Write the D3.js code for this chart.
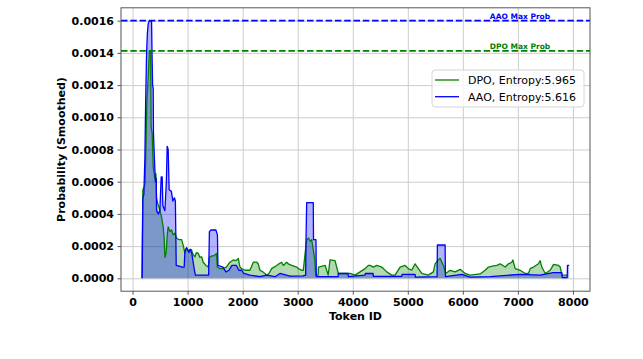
<!DOCTYPE html>
<html><head><meta charset="utf-8">
<script src="https://cdn.jsdelivr.net/npm/d3@7"></script>
<style>body{margin:0;background:#fff} svg{display:block} text{font-family:"DejaVu Sans",sans-serif}</style>
</head><body><svg id="c" width="643" height="359"></svg>
<script>
const xTicks = [0,1000,2000,3000,4000,5000,6000,7000,8000];
const yTicks = [0,0.0002,0.0004,0.0006,0.0008,0.0010,0.0012,0.0014,0.0016];
const seriesNames = ["DPO, Entropy:5.965","AAO, Entropy:5.616"];
const maxLabels = ["DPO Max Prob","AAO Max Prob"];
const maxValues = [0.001412, 0.0016];

const dpoTokens = [169,187,215,229,242,260,284,305,329,338,356,375,405,424,436,460,484,527,556,574,587,611,633,647,678,709,738,769,800,842,891,924,951,982,1014,1042,1073,1096,1133,1160,1193,1224,1254,1284,1333,1374,1396,1442,1478,1527,1538,1587,1647,1705,1769,1829,1878,1920,1951,1982,2042,2133,2193,2254,2283,2314,2369,2436,2478,2527,2618,2660,2709,2738,2800,2829,2891,2982,3011,3072,3102,3133,3163,3196,3227,3254,3282,3309,3327,3372,3378,3500,3554,3587,3678,3738,3951,4042,4133,4223,4283,4314,4375,4436,4527,4618,4709,4769,4860,4951,5011,5072,5132,5193,5254,5374,5465,5496,5542,5587,5647,5687,5769,5860,5951,6042,6132,6314,6405,6465,6556,6618,6678,6769,6829,6890,6909,6951,7041,7132,7192,7223,7284,7374,7404,7435,7496,7587,7648,7738,7769,7799,7896];
const dpoValues = [0,0.00055,0.00057,0.0006,0.0008,0.0011,0.00125,0.001412,0.001412,0.00094,0.0009,0.00069,0.00062,0.00065,0.0005,0.00046,0.00044,0.00038,0.00032,0.00025,0.00013,0.00016,0.00028,0.00032,0.00029,0.0003,0.00027,0.00028,0.00025,0.00024,0.00024,0.0002,0.000155,0.00019,0.00017,0.00018,0.000176,0.00015,0.000134,0.00016,0.000155,0.00013,0.000134,0.0001,0.00008,0.00007,0.00013,0.00014,0.00014,0.000155,0.00007,0.00006,0.00006,0.00007,0.0001,0.000114,0.00011,0.000124,0.00007,0.00006,0.00005,0.00005,0.0001,0.0001,0.00009,0.00005,0.00004,0.00002,0.00003,0.00006,0.00008,0.00009,0.0001,0.00008,0.0001,0.00009,0.00008,0.00007,0.00006,0.00005,0.00005,0.00015,0.00024,0.00025,0.00023,0.00024,0.00018,0.00012,0.00002,0.00002,0.00007,0.00008,0.00002,0.000114,0.00011,0.00003,0.00003,0.00002,0.00004,0.00006,0.00008,0.00008,0.00007,0.00008,0.00007,0.00004,0.00002,0.00002,0.00007,0.00008,0.00006,0.00005,0.00009,0.00006,0.00003,0.00002,0.00004,0.00009,0.00011,0.000124,0.00008,0.00003,0.00005,0.00004,0.000056,0.00003,0.00002,0.000027,0.00005,0.00007,0.000077,0.00008,0.00009,0.00007,0.00009,0.0001,0.000114,0.00006,0.00005,0.00003,0.00003,0.00006,0.00007,0.00009,0.00011,0.00007,0.00003,0.00005,0.000087,0.00008,0.00007,0.00002,0.00002];

const aaoTokens = [175,187,205,224,238,255,269,284,302,345,356,364,375,380,396,415,430,436,469,496,520,538,551,587,614,629,647,665,705,733,760,778,793,909,938,951,982,1024,1051,1078,1124,1142,1382,1396,1423,1514,1542,1551,1642,1696,1751,1805,1887,1932,1982,2023,2133,2314,2436,2587,2678,2860,3096,3145,3151,3163,3283,3287,3332,3338,3732,3738,3914,3920,4223,4229,4369,4375,4890,4896,5132,5138,5532,5538,5678,5684,5981,6132,6496,7041,7404,7641,7799,7805,7896,7901,7932];
const aaoValues = [0,0.0005,0.00052,0.00075,0.0011,0.0014,0.00152,0.00158,0.0016,0.0016,0.00135,0.0012,0.00118,0.0009,0.00075,0.0006,0.00062,0.00042,0.0004,0.00042,0.00063,0.00063,0.00045,0.00042,0.0006,0.00082,0.0008,0.00055,0.00054,0.00048,0.0005,0.00048,0.00008,0.00007,0.00007,0.00017,0.00019,0.00016,0.00018,0.00015,0.00005,0.00002,0.00002,0.00029,0.0003,0.0003,0.00027,0.00008,0.00007,0.00004,0.00005,0.00008,0.00008,0.00005,0.00005,0.00003,0.00002,0.00001,0.00002,0.00001,0.00003,0.000014,0.000015,0.00002,0.00024,0.00047,0.00047,0.00024,0.00024,0.00001,0.00001,0.00003,0.00003,0.00001,0.00002,0.00003,0.00003,0.000012,0.000012,0.000025,0.000025,0.000008,0.00001,0.000207,0.000207,0.00001,0.000025,0.000008,0.00001,0.000025,0.00002,0.000035,0.000035,0.000005,0.000005,0.00008,0.00008];

const colors = ["#008000","#0000ff"];
const series = [
  dpoTokens.map((t,i)=>({t, v:dpoValues[i]})),
  aaoTokens.map((t,i)=>({t, v:aaoValues[i]}))
];

const svg = d3.select("#c");
const L=121, R=590, T=7.8, B=291.2;
const x = d3.scaleLinear().domain([-210, 8310]).range([L, R]);
const y = d3.scaleLinear().domain([-0.00008, 0.00168]).range([B, T]);

// grid
const gx = svg.append("g").attr("transform",`translate(0,${B})`)
  .call(d3.axisBottom(x).tickValues(xTicks).tickSize(-(B-T)).tickFormat(""));
gx.selectAll("line").attr("stroke","#cccccc").attr("stroke-width",1);
gx.select(".domain").remove();
const gy = svg.append("g").attr("transform",`translate(${L},0)`)
  .call(d3.axisLeft(y).tickValues(yTicks).tickSize(-(R-L)).tickFormat(""));
gy.selectAll("line").attr("stroke","#cccccc").attr("stroke-width",1);
gy.select(".domain").remove();

const clip = svg.append("clipPath").attr("id","clp").append("rect")
  .attr("x",L).attr("y",T).attr("width",R-L).attr("height",B-T);
const plot = svg.append("g").attr("clip-path","url(#clp)");

series.forEach((s,i)=>{
  plot.append("path").datum(s)
    .attr("d", d3.area().x(d=>x(d.t)).y0(y(0)).y1(d=>y(d.v)))
    .attr("fill", colors[i]).attr("fill-opacity",0.3).attr("stroke","none");
});
series.forEach((s,i)=>{
  plot.append("path").datum(s)
    .attr("d", d3.line().x(d=>x(d.t)).y(d=>y(d.v)))
    .attr("fill","none").attr("stroke", colors[i]).attr("stroke-width",1.3)
    .attr("stroke-linejoin","round");
});

// max lines
maxValues.forEach((m,i)=>{
  plot.append("line").attr("x1",L).attr("x2",R).attr("y1",y(m)).attr("y2",y(m))
    .attr("stroke",colors[i]).attr("stroke-width",1.8).attr("stroke-dasharray","6.5,2.8");
  svg.append("text").attr("x",520).attr("y",y(m)-1.8).attr("text-anchor","middle")
    .attr("font-size",7.5).attr("font-weight","bold").attr("fill",colors[i]).text(maxLabels[i]);
});

// axes
const ax = svg.append("g").attr("transform",`translate(0,${B})`)
  .call(d3.axisBottom(x).tickValues(xTicks).tickSize(3.5).tickPadding(3.5).tickFormat(d3.format("d")));
const ay = svg.append("g").attr("transform",`translate(${L},0)`)
  .call(d3.axisLeft(y).tickValues(yTicks).tickSize(3.5).tickPadding(3.5).tickFormat(d3.format(".4f")));
[ax,ay].forEach(g=>{
  g.select(".domain").remove();
  g.selectAll("line").attr("stroke","#555");
  g.selectAll("text").attr("font-size",11).attr("font-weight","bold").attr("fill","#000")
    .attr("font-family","DejaVu Sans");
});
svg.append("rect").attr("x",L).attr("y",T).attr("width",R-L).attr("height",B-T)
  .attr("fill","none").attr("stroke","#555").attr("stroke-width",1);

svg.append("text").attr("x",(L+R)/2).attr("y",320).attr("text-anchor","middle")
  .attr("font-size",11).attr("font-weight","bold").text("Token ID");
svg.append("text").attr("transform",`translate(65,${(T+B)/2}) rotate(-90)`).attr("text-anchor","middle")
  .attr("font-size",11).attr("font-weight","bold").text("Probability (Smoothed)");

// legend
const lg = svg.append("g");
lg.append("rect").attr("x",432).attr("y",70).attr("width",152).attr("height",37).attr("rx",3)
  .attr("fill","#fff").attr("fill-opacity",0.8).attr("stroke","#d5d5d5");
seriesNames.forEach((n,i)=>{
  const yy = 80 + i*16.7;
  lg.append("line").attr("x1",435).attr("x2",459).attr("y1",yy).attr("y2",yy)
    .attr("stroke",colors[i]).attr("stroke-width",1.3);
  lg.append("text").attr("x",468).attr("y",yy+4).attr("font-size",11).text(n);
});
</script></body></html>
